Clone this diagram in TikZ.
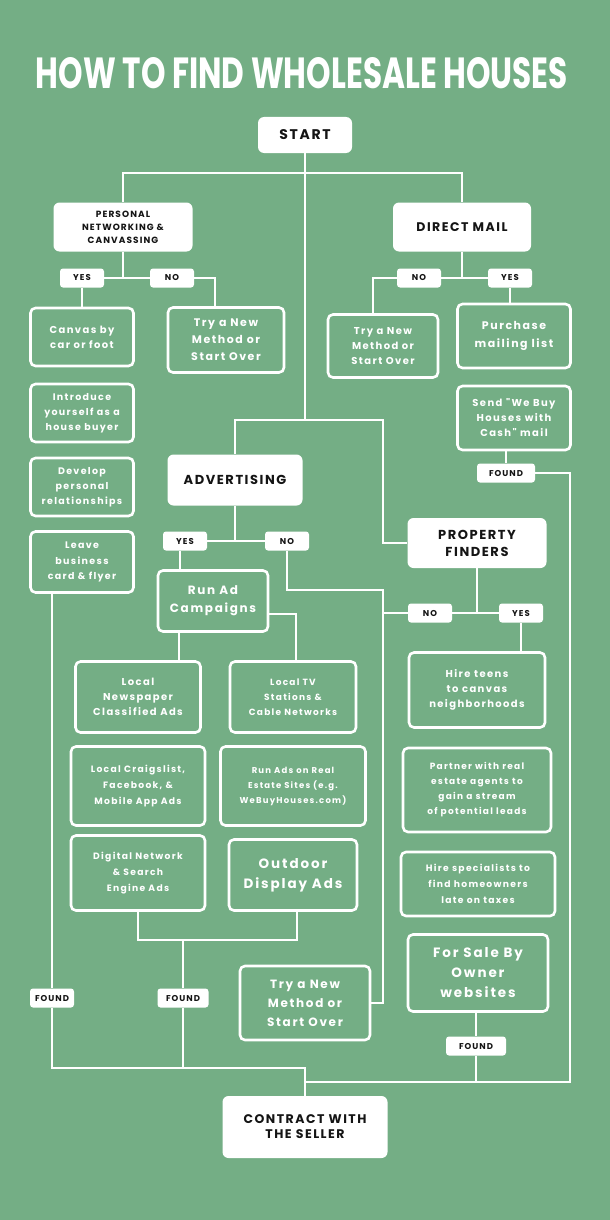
\documentclass[tikz,border=0pt]{standalone}
\usepackage{fontspec}
\setmainfont{Poppins}
\newfontfamily\boxfont[LetterSpace=14]{Poppins}
\newfontfamily\headfont[LetterSpace=12]{Poppins}
\usetikzlibrary{positioning}
\definecolor{bggreen}{RGB}{116,174,133}
\definecolor{inkblack}{RGB}{20,20,20}
\tikzset{
  wire/.style={white, line width=2.6pt},
  solid/.style={fill=white, rounded corners=6pt, text=inkblack, align=center,
    font=\headfont\bfseries\fontsize{12.5}{15}\selectfont, inner sep=0pt},
  outl/.style={draw=white, line width=2.6pt, rounded corners=5pt, text=white, align=center,
    font=\boxfont\bfseries\fontsize{10}{15}\selectfont, inner sep=0pt},
  bigtxt/.style={font=\boxfont\bfseries\fontsize{13.5}{20}\selectfont},
  tag/.style={fill=white, rounded corners=3pt, text=inkblack, inner sep=0pt,
    font=\headfont\bfseries\fontsize{8.5}{9}\selectfont, minimum height=19pt, minimum width=44pt},
}
\begin{document}
\begin{tikzpicture}[x=1pt,y=-1pt]
  \fill[bggreen] (0,0) rectangle (610,1220);
  \useasboundingbox (0,0) rectangle (610,1220);
  \node[white] (title) at (302,73) {\resizebox{532pt}{31pt}{\bfseries HOW TO FIND WHOLESALE HOUSES}};

  % top level
  \node[solid, minimum width=94, minimum height=36, font=\headfont\bfseries\fontsize{14}{15}\selectfont] (start) at (305,135) {START};
  \node[solid, minimum width=139, minimum height=49, font=\headfont\bfseries\fontsize{9}{13}\selectfont] (pnc) at (123,227) {PERSONAL\\NETWORKING \&\\CANVASSING};
  \node[solid, minimum width=138, minimum height=49] (dmail) at (462,227) {DIRECT MAIL};
  \node[solid, minimum width=135, minimum height=51, font=\headfont\bfseries\fontsize{13}{14}\selectfont] (adv) at (235,480) {ADVERTISING};
  \node[solid, minimum width=139, minimum height=50, font=\headfont\bfseries\fontsize{13}{17}\selectfont] (pfind) at (477,543) {PROPERTY\\FINDERS};
  \node[solid, minimum width=165, minimum height=62] (seller) at (305,1127) {CONTRACT WITH\\THE SELLER};

  % personal networking branch
  \node[tag] (pncyes) at (82,278) {YES};
  \node[tag] (pncno) at (172,278) {NO};
  \node[outl, minimum width=103, minimum height=58] (canvas) at (82,337) {Canvas by\\car or foot};
  \node[outl, minimum width=116, minimum height=65, font=\boxfont\bfseries\fontsize{11}{17}\selectfont] (trya) at (226,340) {Try a New\\Method or\\Start Over};
  \node[outl, minimum width=103, minimum height=58, font=\boxfont\bfseries\fontsize{9.5}{15}\selectfont] (intro) at (82,413) {Introduce\\yourself as a\\house buyer};
  \node[outl, minimum width=103, minimum height=58, font=\boxfont\bfseries\fontsize{9.5}{15}\selectfont] (devel) at (82,487) {Develop\\personal\\relationships};
  \node[outl, minimum width=103, minimum height=61, font=\boxfont\bfseries\fontsize{9.5}{15.5}\selectfont] (leave) at (82,562) {Leave\\business\\card \& flyer};
  \node[tag] (founda) at (52,998) {FOUND};

  % direct mail branch
  \node[tag] (dmno) at (419,278) {NO};
  \node[tag] (dmyes) at (510,278) {YES};
  \node[outl, minimum width=110, minimum height=63] (tryb) at (383,346) {Try a New\\Method or\\Start Over};
  \node[outl, minimum width=113, minimum height=64, font=\boxfont\bfseries\fontsize{11}{18}\selectfont] (purch) at (514,336) {Purchase\\mailing list};
  \node[outl, minimum width=113, minimum height=64] (send) at (514,418) {Send "We Buy\\Houses with\\Cash" mail};
  \node[tag, minimum width=58] (foundb) at (506,473) {FOUND};

  % advertising branch
  \node[tag] (advyes) at (185,541) {YES};
  \node[tag] (advno) at (287,541) {NO};
  \node[outl, minimum width=110, minimum height=61, font=\boxfont\bfseries\fontsize{12}{18}\selectfont] (runad) at (213,601) {Run Ad\\Campaigns};
  \node[outl, minimum width=125, minimum height=71] (news) at (138,697) {Local\\Newspaper\\Classified Ads};
  \node[outl, minimum width=126, minimum height=71, font=\boxfont\bfseries\fontsize{9}{15}\selectfont] (tv) at (293,697) {Local TV\\Stations \&\\Cable Networks};
  \node[outl, minimum width=134, minimum height=79, font=\boxfont\bfseries\fontsize{9.2}{16}\selectfont] (craig) at (138,786) {Local Craigslist,\\Facebook, \&\\Mobile App Ads};
  \node[outl, minimum width=145, minimum height=79, font=\boxfont\bfseries\fontsize{8.5}{15}\selectfont] (estate) at (293,786) {Run Ads on Real\\Estate Sites (e.g.\\WeBuyHouses.com)};
  \node[outl, minimum width=134, minimum height=75, font=\boxfont\bfseries\fontsize{9.2}{16}\selectfont] (digital) at (138,873) {Digital Network\\\& Search\\Engine Ads};
  \node[outl, bigtxt, minimum width=128, minimum height=71] (outdoor) at (293,875) {Outdoor\\Display Ads};
  \node[tag, minimum width=51] (foundc) at (183,998) {FOUND};
  \node[outl, minimum width=130, minimum height=74, font=\boxfont\bfseries\fontsize{12}{19}\selectfont] (tryc) at (305,1003) {Try a New\\Method or\\Start Over};

  % property finders branch
  \node[tag] (pfno) at (430,613) {NO};
  \node[tag] (pfyes) at (521,613) {YES};
  \node[outl, minimum width=136, minimum height=75] (teens) at (477,690) {Hire teens\\to canvas\\neighborhoods};
  \node[outl, minimum width=148, minimum height=84, font=\boxfont\bfseries\fontsize{9}{15}\selectfont] (agents) at (477,790) {Partner with real\\estate agents to\\gain a stream\\of potential leads};
  \node[outl, minimum width=154, minimum height=64, font=\boxfont\bfseries\fontsize{9.2}{16}\selectfont] (spec) at (478,884) {Hire specialists to\\find homeowners\\late on taxes};
  \node[outl, bigtxt, minimum width=140, minimum height=77] (fsbo) at (478,973) {For Sale By\\Owner\\websites};
  \node[tag, minimum width=60] (foundd) at (476,1046) {FOUND};

  % junctions
  \coordinate (split) at (305,173);
  \coordinate (trunk) at (305,420);
  \coordinate (leftend) at (52,1068);
  \coordinate (rightend) at (570,1082);
  \coordinate (adsum) at (183,940);
  \coordinate (nobus) at (383,590);

  % connectors
  \draw[wire] (start) -- (split);
  \draw[wire] (pnc.north) |- (split) -| (dmail.north);
  \draw[wire] (split) -- (trunk) -| (adv.north);
  \draw[wire] (trunk) -| (nobus |- pfind.west) -- (pfind.west);
  \draw[wire] (pncyes) -- (pncno);
  \draw[wire] (pnc.south) -- (pnc.south |- pncyes);
  \draw[wire] (pncyes) -- (pncyes |- canvas.north);
  \draw[wire] (pncno.east) -| (trya.north -| 215,0);
  \draw[wire] (dmno) -- (dmyes);
  \draw[wire] (dmail.south) -- (dmail.south |- dmno);
  \draw[wire] (dmno.west) -| (tryb.north -| 373,0);
  \draw[wire] (dmyes) -- (dmyes |- purch.north);
  \draw[wire] (send.south -| foundb) -- (foundb);
  \draw[wire] (foundb.east) -| (rightend) -| (seller.north);
  \draw[wire] (leave.south -| founda) -- (founda) -- (leftend) -| (seller.north);
  \draw[wire] (advyes) -- (advno);
  \draw[wire] (adv.south) -- (adv.south |- advyes);
  \draw[wire] (advyes.south -| 180,0) -- (runad.north -| 180,0);
  \draw[wire] (advno) |- (nobus) -- (nobus |- tryc.east) -- (tryc.east);
  \draw[wire] (runad.south -| 179,0) -- (news.north -| 179,0);
  \draw[wire] (runad.east |- 0,614) -| (tv.north -| 296,0);
  \draw[wire] (digital.south) |- (adsum) -| (outdoor.south -| 297,0);
  \draw[wire] (adsum) -- (foundc) -- (foundc |- leftend);
  \draw[wire] (pfno) -- (pfyes);
  \draw[wire] (pfind.south) -- (pfind.south |- pfno);
  \draw[wire] (pfno.west) -- (nobus |- pfno);
  \draw[wire] (pfyes) -- (pfyes |- teens.north);
  \draw[wire] (fsbo.south -| foundd) -- (foundd) -- (foundd |- rightend);
\end{tikzpicture}
\end{document}
